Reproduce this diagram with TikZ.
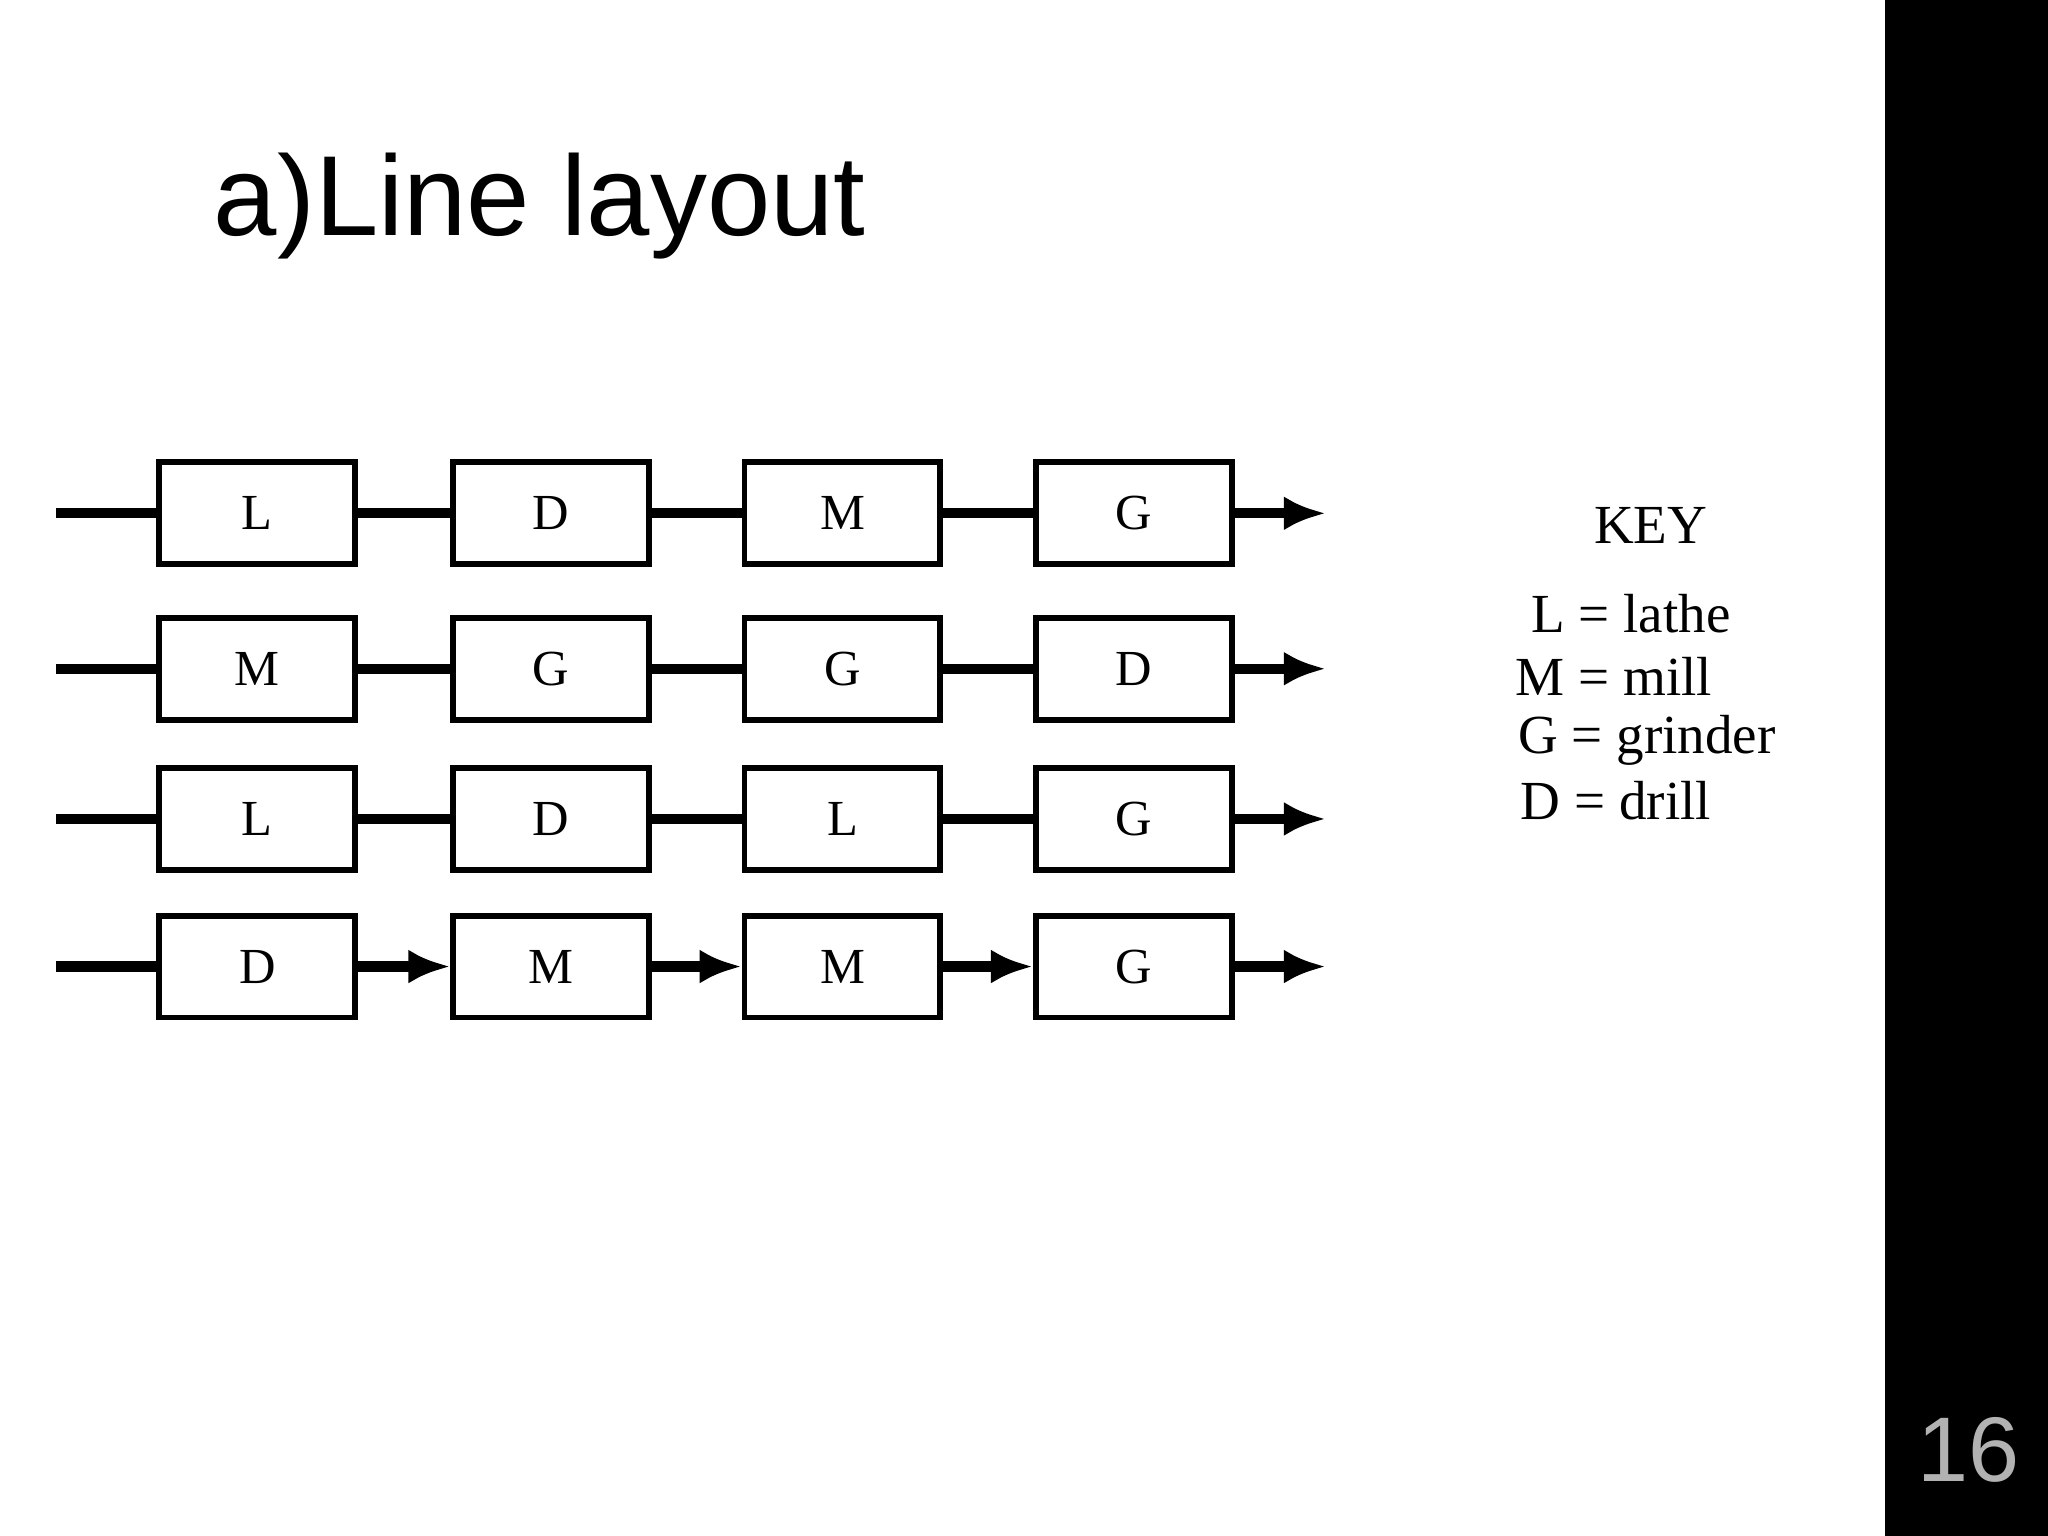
\documentclass[tikz,border=0pt]{standalone}
\usepackage{fontspec}
\setmainfont{Liberation Serif}
\newfontfamily\sansf{Liberation Sans}
\usetikzlibrary{arrows.meta}
\begin{document}
\begin{tikzpicture}[x=0.1mm,y=-0.1mm,
  box/.style={draw,line width=1.3pt,minimum width=15mm,minimum height=7.8mm,inner sep=0,font=\fontsize{11}{13}\selectfont},
  ln/.style={line width=2.2pt},
  ar/.style={line width=2.2pt,-{Latex[length=3.2mm,width=2.6mm]}},
  keyt/.style={anchor=west,font=\fontsize{12}{14}\selectfont}]
\useasboundingbox (0,0) rectangle (1568,1176);
\fill[black] (1443,0) rectangle (1568,1176);
\node[anchor=base west,inner sep=0,font=\sansf\fontsize{24.8}{30}\selectfont] (title) at (163,180) {a)Line layout};
\node[anchor=center,text=gray!60,font=\sansf\fontsize{20}{24}\selectfont] (pg) at (1507,1110) {16};
\foreach \r/\y/\a/\b/\c/\d in {1/393/L/D/M/G,2/512/M/G/G/D,3/627/L/D/L/G,4/740/D/M/M/G}{
  \node[box] (b\r1) at (197,\y) {\a};
  \node[box] (b\r2) at (422,\y) {\b};
  \node[box] (b\r3) at (645,\y) {\c};
  \node[box] (b\r4) at (868,\y) {\d};
  \coordinate (s\r) at (43,\y);
  \coordinate (e\r) at (1015,\y);
  \draw[ln] (s\r) -- (b\r1);
  \draw[ar] (b\r4) -- (e\r);
}
\foreach \r in {1,2,3}{
  \draw[ln] (b\r1) -- (b\r2); \draw[ln] (b\r2) -- (b\r3); \draw[ln] (b\r3) -- (b\r4);
}
\draw[ar] (b41) -- (b42); \draw[ar] (b42) -- (b43); \draw[ar] (b43) -- (b44);
\node[keyt] (key) at (1208,402) {KEY};
\node[keyt] (k1) at (1160,470) {L = lathe};
\node[keyt] (k2) at (1148,518) {M = mill};
\node[keyt] (k3) at (1150,567) {G = grinder};
\node[keyt] (k4) at (1152,613) {D = drill};
\end{tikzpicture}
\end{document}
